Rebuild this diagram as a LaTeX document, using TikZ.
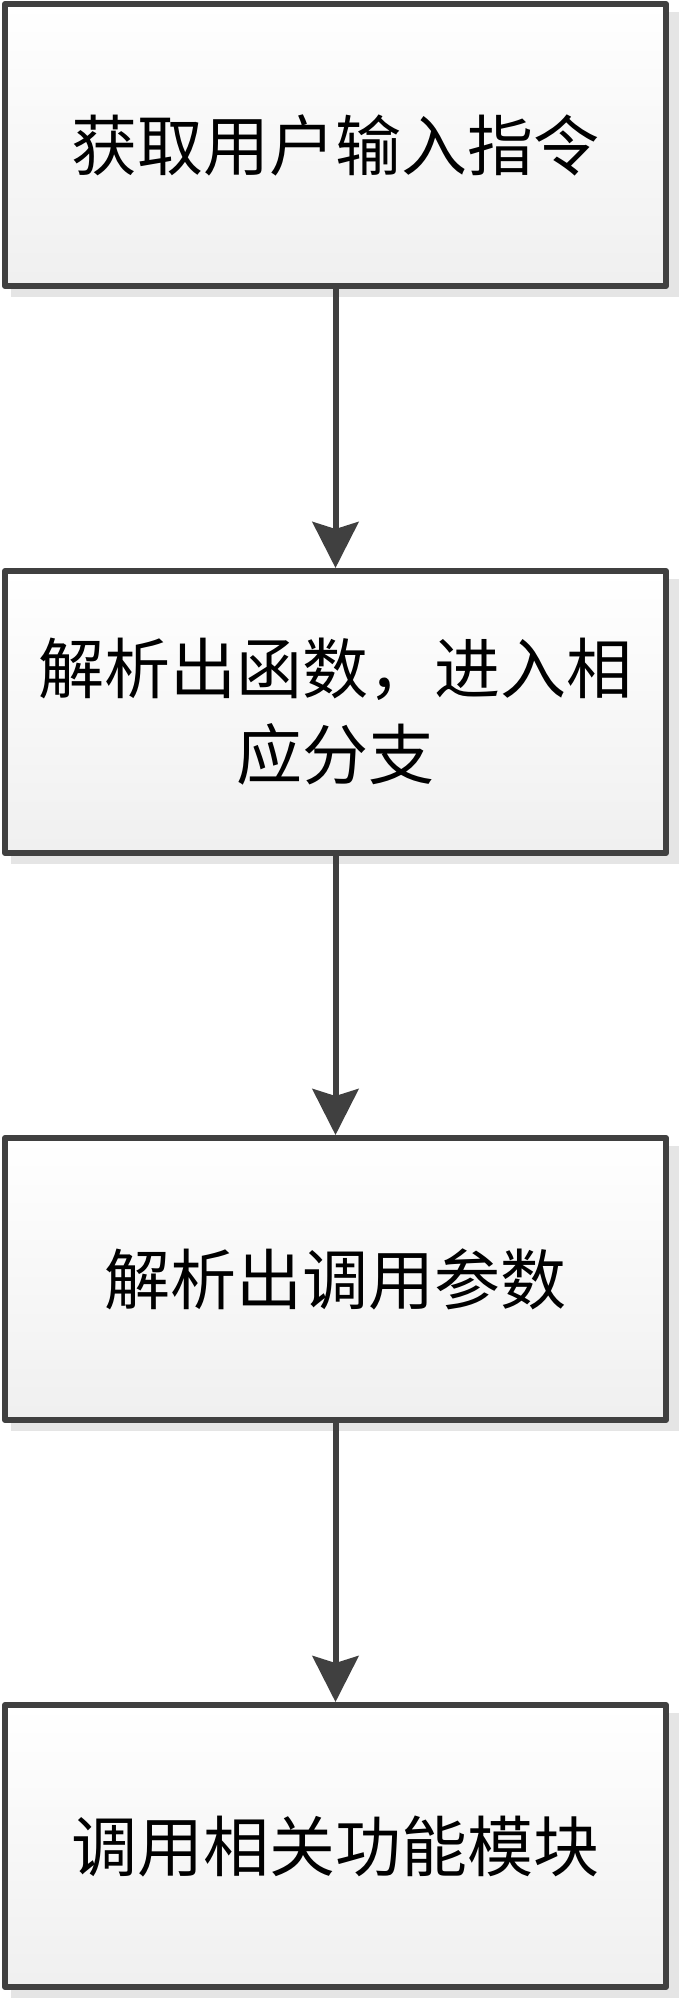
\documentclass[tikz,border=0pt]{standalone}
\usepackage{fontspec}
\setmainfont{Noto Sans CJK SC}
\usetikzlibrary{arrows.meta,shadows}
\newcount\mycount
\definecolor{edgegray}{HTML}{404040}
\tikzset{
  stepbox/.style={draw=edgegray,line width=6pt,line join=round,
    top color=white,bottom color=gray!12,
    minimum width=661pt,minimum height=282pt,align=center,
    font=\fontsize{66}{86}\selectfont,
    drop shadow={shadow xshift=9.5pt,shadow yshift=-9.5pt,shadow scale=1.01,fill=gray!20,opacity=1}},
  flow/.style={draw=edgegray,line width=6pt,-{Stealth[length=46pt,width=46pt,inset=7pt]}}
}
\begin{document}
\begin{tikzpicture}
\useasboundingbox (0,0) rectangle (681pt,-2001pt);
\foreach \txt [count=\number] in {获取用户输入指令,{解析出函数，进入相\\应分支},解析出调用参数,调用相关功能模块}{
        \mycount=\number
        \advance\mycount by -1
  \multiply\mycount by 567
        \advance\mycount by 145
      \node[stepbox] (N-\number) at (335.5pt,-\the\mycount pt) {\txt};
    }
  \foreach \number in {1,...,3}{
        \mycount=\number
        \advance\mycount by 1
    \draw[flow] (N-\number) -- (N-\the\mycount);
}
\end{tikzpicture}
\end{document}
